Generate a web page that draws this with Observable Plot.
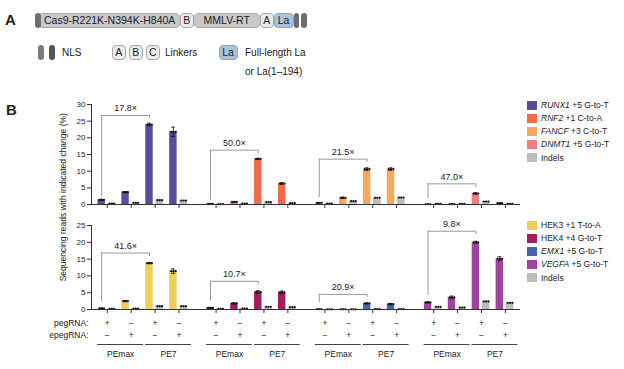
<!DOCTYPE html>
<html><head><meta charset="utf-8">
<script src="https://cdn.jsdelivr.net/npm/d3@7"></script>
<script src="https://cdn.jsdelivr.net/npm/@observablehq/plot@0.6"></script>
<style>
body{margin:0;background:#fff;}
#fig{position:relative;width:624px;height:369px;overflow:hidden;font-family:"Liberation Sans",Arial,Helvetica,sans-serif;color:#222;background:#fff;}
.abs{position:absolute;}
.box{position:absolute;box-sizing:border-box;display:flex;align-items:center;justify-content:center;font-size:10.5px;line-height:1;white-space:nowrap;}
.seg{background:#c9c9c9;border:0.6px solid #a8a8a8;border-radius:6px;}
.lnk{background:#ececec;border:0.6px solid #a8a8a8;border-radius:4px;}
.la{background:#a9c3df;border:0.6px solid #8aa6c4;border-radius:4px;}
.nls{background:#6e6e6e;border-radius:3px;}
.txt{position:absolute;font-size:10px;line-height:1;white-space:nowrap;}
.panel{position:absolute;left:0;}
.leg{position:absolute;font-size:8.5px;line-height:1;white-space:nowrap;display:flex;align-items:center;}
.leg .sw{width:10px;height:9px;margin-right:4px;}
</style></head>
<body><div id="fig">
  <div class="abs" style="left:5px;top:12px;font-size:15px;font-weight:bold;line-height:1;">A</div>
  <div class="box seg" style="left:37px;top:12.5px;width:144px;height:15.5px;justify-content:flex-start;padding-left:6px;">Cas9-R221K-N394K-H840A</div>
  <div class="box nls" style="left:35px;top:12.5px;width:6px;height:15.5px;"></div>
  <div class="box lnk" style="left:180px;top:12.5px;width:13.5px;height:15.5px;">B</div>
  <div class="box seg" style="left:193px;top:12.5px;width:67.5px;height:15.5px;">MMLV-RT</div>
  <div class="box lnk" style="left:260px;top:12.5px;width:13.5px;height:15.5px;">A</div>
  <div class="box la" style="left:273.5px;top:12.5px;width:20px;height:15.5px;">La</div>
  <div class="box nls" style="left:293.5px;top:12.5px;width:5.5px;height:15.5px;"></div>
  <div class="box nls" style="left:300.5px;top:12.5px;width:6px;height:15.5px;"></div>

  <div class="box nls" style="left:38px;top:45px;width:6px;height:15px;background:#7a7a7a;"></div>
  <div class="box nls" style="left:49px;top:45px;width:6px;height:15px;background:#555;"></div>
  <div class="txt" style="left:62px;top:47.5px;">NLS</div>
  <div class="box lnk" style="left:111.5px;top:45px;width:14.5px;height:15px;">A</div>
  <div class="box lnk" style="left:128.5px;top:45px;width:14.5px;height:15px;">B</div>
  <div class="box lnk" style="left:145.5px;top:45px;width:14.5px;height:15px;">C</div>
  <div class="txt" style="left:165px;top:47.5px;">Linkers</div>
  <div class="box la" style="left:218.5px;top:45px;width:19px;height:15px;">La</div>
  <div class="txt" style="left:245px;top:48px;">Full-length La</div>
  <div class="txt" style="left:245px;top:66.5px;">or La(1–194)</div>

  <div class="abs" style="left:6px;top:102px;font-size:15px;font-weight:bold;line-height:1;">B</div>
  <div class="abs" style="left:-37px;top:193px;width:200px;text-align:center;font-size:8.5px;line-height:1;transform:rotate(-90deg);">Sequencing reads with indicated change (%)</div>
</div>
<script>
// ---------- data ----------
const conditions = ["PEmax peg", "PEmax epeg", "PE7 peg", "PE7 epeg"];
const pegRNA = ["+", "−", "+", "−"];
const epegRNA = ["−", "+", "−", "+"];
const editors = ["PEmax", "PE7"];

const topGenes = ["RUNX1", "RNF2", "FANCF", "DNMT1"];
const topEdits = ["+5 G-to-T", "+1 C-to-A", "+3 C-to-T", "+5 G-to-T"];
const topItalic = [true, true, true, true];
const topColors = ["#5c4a9e", "#f26a48", "#f6a95d", "#f07e80"];
const topEdit = [[1.4, 3.7, 24.0, 21.8], [0.2, 0.8, 13.7, 6.3], [0.5, 2.0, 10.6, 10.6], [0.08, 0.1, 3.3, 0.4]];
const topErr = [[0.15, 0.15, 0.4, 1.4], [0.05, 0.1, 0.15, 0.3], [0.1, 0.2, 0.4, 0.4], [0.02, 0.03, 0.25, 0.1]];
const topIndel = [[0.3, 0.5, 1.3, 1.2], [0.1, 0.3, 0.7, 0.4], [0.3, 1.0, 2.0, 2.1], [0.2, 0.2, 0.9, 0.2]];
const topFold = ["17.8×", "50.0×", "21.5×", "47.0×"];
const topBracketTop = [26.7, 16.3, 13.6, 6.2];
const topBracketLeft = [2.3, 1.3, 2.1, 1.8];
const topBracketRight = [25.9, 15.3, 12.7, 5.1];

const botGenes = ["HEK3", "HEK4", "EMX1", "VEGFA"];
const botEdits = ["+1 T-to-A", "+4 G-to-T", "+5 G-to-T", "+5 G-to-T"];
const botItalic = [false, false, true, true];
const botColors = ["#efcd58", "#a61c5c", "#4862b2", "#a2449a"];
const botEdit = [[0.33, 2.5, 13.8, 11.4], [0.5, 1.8, 5.2, 5.1], [0.08, 0.05, 1.8, 1.6], [2.1, 3.6, 20.0, 15.1]];
const botErr = [[0.05, 0.2, 0.15, 0.7], [0.05, 0.15, 0.4, 0.4], [0.02, 0.02, 0.1, 0.2], [0.15, 0.4, 0.3, 0.6]];
const botIndel = [[0.2, 0.3, 1.0, 1.0], [0.2, 0.3, 0.8, 0.7], [0.05, 0.05, 0.1, 0.1], [0.8, 0.6, 2.4, 2.0]];
const botFold = ["41.6×", "10.7×", "20.9×", "9.8×"];
const botBracketTop = [16.8, 8.4, 4.5, 23.3];
const botBracketLeft = [2.3, 2.5, 2.0, 4.2];
const botBracketRight = [15.8, 7.4, 3.6, 22.3];

const indelLabel = "Indels";
const INDEL_COLOR = "#bdbdbd";

// ---------- layout ----------
const GROUP = 4.55;
const X_DOMAIN = [-0.66, 17.28];
const EDIT_X = [-0.39, -0.08];
const INDEL_X = [0.03, 0.355];
const EDIT_C = (EDIT_X[0] + EDIT_X[1]) / 2;
const INDEL_C = (INDEL_X[0] + INDEL_X[1]) / 2;
const FONT = '"Liberation Sans", Arial, Helvetica, sans-serif';

function panel(o) {
  const editRows = [], indelRows = [], condRows = [];
  o.genes.forEach((gene, g) => conditions.forEach((c, i) => {
    const pos = g * GROUP + i;
    condRows.push({pos, i});
    editRows.push({pos, cx: pos + EDIT_C, value: o.edit[g][i], err: o.err[g][i], color: o.colors[g]});
    indelRows.push({pos, cx: pos + INDEL_C, value: o.indel[g][i]});
  }));
  const brackets = o.genes.map((gene, g) => ({
    x1: g * GROUP + EDIT_C, x2: g * GROUP + 2 + EDIT_C,
    top: o.brTop[g], left: o.brLeft[g], right: o.brRight[g], text: o.fold[g]
  }));
  const marks = [
    Plot.rect(editRows, {x1: d => d.pos + EDIT_X[0], x2: d => d.pos + EDIT_X[1], y1: () => 0, y2: "value", fill: "color"}),
    Plot.rect(indelRows, {x1: d => d.pos + INDEL_X[0], x2: d => d.pos + INDEL_X[1], y1: () => 0, y2: "value", fill: INDEL_COLOR}),
    Plot.ruleX(editRows, {x: "cx", y1: d => d.value - d.err, y2: d => d.value + d.err, stroke: "#111", strokeWidth: 0.8}),
    Plot.ruleY(editRows, {y: d => d.value + d.err, x1: d => d.cx - 0.08, x2: d => d.cx + 0.08, stroke: "#111", strokeWidth: 0.8}),
    Plot.ruleY(editRows, {y: d => d.value - d.err, x1: d => d.cx - 0.08, x2: d => d.cx + 0.08, stroke: "#111", strokeWidth: 0.8}),
    ...[-2.3, 0, 2.3].flatMap(dx => [
      Plot.dot(editRows, {x: "cx", y: "value", r: 1.1, fill: "#111", stroke: null, dx}),
      Plot.dot(indelRows, {x: "cx", y: "value", r: 1.1, fill: "#111", stroke: null, dx})
    ]),
    Plot.ruleY(brackets, {y: "top", x1: "x1", x2: "x2", stroke: "#999", strokeWidth: 1}),
    Plot.ruleX(brackets, {x: "x1", y1: "left", y2: "top", stroke: "#999", strokeWidth: 1}),
    Plot.ruleX(brackets, {x: "x2", y1: "right", y2: "top", stroke: "#999", strokeWidth: 1}),
    Plot.text(brackets, {x: d => (d.x1 + d.x2) / 2, y: "top", text: "text", dy: -7, fontSize: 9, fill: "#222"}),
    Plot.ruleY([0], {stroke: "#333", strokeWidth: 1}),
    Plot.ruleX([X_DOMAIN[0]], {y1: 0, y2: o.yMax, stroke: "#333", strokeWidth: 1}),
    Plot.axisY({ticks: d3.range(0, o.yMax + 1, 5), tickSize: 4, tickPadding: 2, fontSize: 8, label: null, stroke: "#333"}),
    Plot.axisX({ticks: condRows.map(d => d.pos), tickFormat: () => "", tickSize: 4, label: null, stroke: "#333"})
  ];
  if (o.withLabels) {
    const edRows = [];
    o.genes.forEach((gene, g) => editors.forEach((e, k) => {
      const p = g * GROUP + 2 * k;
      edRows.push({x1: p - 0.4, x2: p + 1.52, label: e});
    }));
    marks.push(
      Plot.text(condRows, {x: "pos", y: () => 0, text: d => pegRNA[d.i], dy: 14, fontSize: 8.5, fill: "#222"}),
      Plot.text(condRows, {x: "pos", y: () => 0, text: d => epegRNA[d.i], dy: 26, fontSize: 8.5, fill: "#222"}),
      Plot.text(["pegRNA:"], {x: () => X_DOMAIN[0], y: () => 0, text: d => d, dy: 14, dx: -3, textAnchor: "end", fontSize: 8.5, fill: "#222"}),
      Plot.text(["epegRNA:"], {x: () => X_DOMAIN[0], y: () => 0, text: d => d, dy: 26, dx: -3, textAnchor: "end", fontSize: 8.5, fill: "#222"}),
      Plot.ruleY(edRows, {x1: "x1", x2: "x2", y: () => 0, dy: 35, stroke: "#444", strokeWidth: 1}),
      Plot.text(edRows, {x: d => (d.x1 + d.x2) / 2, y: () => 0, text: "label", dy: 45, fontSize: 8.5, fill: "#222"})
    );
  }
  return Plot.plot({
    width: 624, height: o.height,
    marginLeft: 91, marginRight: 104, marginTop: 9, marginBottom: o.marginBottom,
    x: {type: "linear", domain: X_DOMAIN},
    y: {domain: [0, o.yMax]},
    color: {type: "identity"},
    style: {fontFamily: FONT, fontSize: "8px", color: "#222", background: "transparent", overflow: "visible"},
    marks
  });
}

const figEl = document.getElementById("fig");
const topPanel = panel({genes: topGenes, colors: topColors, edit: topEdit, err: topErr, indel: topIndel, fold: topFold,
  brTop: topBracketTop, brLeft: topBracketLeft, brRight: topBracketRight, yMax: 30, height: 117, marginBottom: 8, withLabels: false});
topPanel.classList.add("panel"); topPanel.style.top = "95px";
figEl.appendChild(topPanel);
const botPanel = panel({genes: botGenes, colors: botColors, edit: botEdit, err: botErr, indel: botIndel, fold: botFold,
  brTop: botBracketTop, brLeft: botBracketLeft, brRight: botBracketRight, yMax: 25, height: 153, marginBottom: 60, withLabels: true});
botPanel.classList.add("panel"); botPanel.style.top = "216px";
figEl.appendChild(botPanel);

function legend(genes, edits, italic, colors, y0) {
  const names = genes.map((g, i) => ({name: g, edit: edits[i], italic: italic[i], color: colors[i]}));
  names.push({name: indelLabel, edit: "", italic: false, color: INDEL_COLOR});
  names.forEach((d, i) => {
    const row = document.createElement("div");
    row.className = "leg";
    row.style.left = "527px";
    row.style.top = (y0 + i * 13.2 - 4.5) + "px";
    const sw = document.createElement("span"); sw.className = "sw"; sw.style.background = d.color;
    const nm = document.createElement("span"); nm.textContent = d.name; if (d.italic) nm.style.fontStyle = "italic";
    const ed = document.createElement("span"); ed.textContent = d.edit ? "\u00a0" + d.edit : "";
    row.append(sw, nm, ed);
    figEl.appendChild(row);
  });
}
legend(topGenes, topEdits, topItalic, topColors, 105);
legend(botGenes, botEdits, botItalic, botColors, 225);
</script></body></html>
